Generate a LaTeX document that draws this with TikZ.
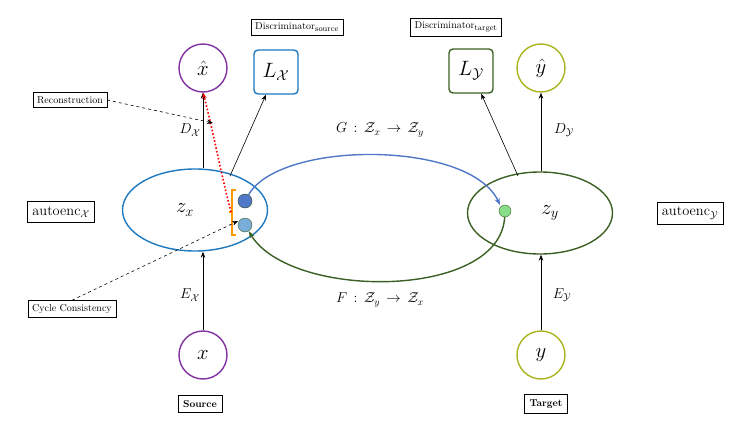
\documentclass[tikz,border=0pt]{standalone}
\usepackage{amsmath,amssymb}
\usetikzlibrary{arrows.meta,shapes.geometric}
\definecolor{pur}{RGB}{128,50,160}
\definecolor{blu}{RGB}{30,120,190}
\definecolor{dgr}{RGB}{60,95,35}
\definecolor{ygr}{RGB}{170,180,30}
\definecolor{gcol}{RGB}{80,120,200}
\begin{document}
\begin{tikzpicture}[x=1pt,y=-1pt,
  circ/.style={circle,draw,line width=1.4pt,minimum size=48pt,inner sep=0pt,font=\huge},
  lbox/.style={rounded corners=4pt,draw,line width=1.4pt,minimum size=44pt,inner sep=0pt,font=\huge},
  tbox/.style={draw,fill=white,inner sep=4pt,font=\normalsize},
  ell/.style={ellipse,draw,line width=1.4pt,minimum width=145pt,minimum height=82pt,font=\huge},
  arr/.style={-{Stealth[length=6pt]},semithick},
  dasharr/.style={-{Stealth[length=6pt]},dashed,semithick}]
\useasboundingbox (0,0) rectangle (748,423);
\node[circ,draw=pur] (xh) at (203,68) {$\hat{x}$};
\node[lbox,draw=blu] (LX) at (276,72) {$L_{\mathcal{X}}$};
\node[tbox] (ds) at (297,27) {Discriminator\textsubscript{\footnotesize source}};
\node[tbox] (dt) at (456,27) {Discriminator\textsubscript{\footnotesize target}};
\node[lbox,draw=dgr] (LY) at (471,71) {$L_{\mathcal{Y}}$};
\node[circ,draw=ygr] (yh) at (541,68) {$\hat{y}$};
\node[tbox] (rec) at (70,100) {Reconstruction};
\node[font=\Large] (DX) at (190,130) {$D_{\mathcal{X}}$};
\node[font=\Large] (DY) at (564,130) {$D_{\mathcal{Y}}$};
\node[font=\Large] (G) at (380,130) {$G\,:\,\mathcal{Z}_x\,\rightarrow\,\mathcal{Z}_y$};
\node[font=\Large] (F) at (380,300) {$F\,:\,\mathcal{Z}_y\,\rightarrow\,\mathcal{Z}_x$};
\node[ell,draw=blu] (zx) at (195,210) {\hspace*{-20pt}$z_x$};
\node[ell,draw=dgr] (zy) at (540,213) {\hspace*{20pt}$z_y$};
\node[draw,inner sep=5pt,font=\Large] (ax) at (61,212) {autoenc$_{\mathcal{X}}$};
\node[draw,inner sep=5pt,font=\Large] (ay) at (690,213) {autoenc$_{\mathcal{Y}}$};
\node[circle,draw=dgr!70!black,fill=gcol,minimum size=14pt,inner sep=0pt] (c1) at (245,201) {};
\node[circle,draw=dgr,fill=blu!60,minimum size=14pt,inner sep=0pt] (c2) at (245,225) {};
\node[circle,draw=dgr,fill=green!55!gray!60,minimum size=12pt,inner sep=0pt] (c3) at (505,211) {};
\draw[orange!80!yellow,line width=1.4pt] (236,190) -- (232,190) -- (232,235) -- (236,235) (232,212) -- (229,212);
\coordinate (br) at (231,212);
\node[tbox] (cc) at (72,309) {Cycle Consistency};
\node[font=\Large] (EX) at (190,295) {$E_{\mathcal{X}}$};
\node[font=\Large] (EY) at (562,295) {$E_{\mathcal{Y}}$};
\node[circ,draw=pur] (x) at (203,355) {$x$};
\node[circ,draw=ygr] (y) at (541,355) {$y$};
\node[draw,inner sep=5pt,font=\normalsize\bfseries] (src) at (200,404) {Source};
\node[draw,inner sep=5pt,font=\normalsize\bfseries] (tgt) at (546,404) {Target};
\draw[arr] (x) -- (x.north|-zx.south);
\draw[arr] (xh.south|-zx.north) -- (xh);
\draw[arr] (230,176) -- (LX);
\draw[arr] (y) -- (y.north|-zy.south);
\draw[arr] (yh.south|-zy.north) -- (yh);
\draw[arr] (518,176) -- (LY);
\draw[-{Stealth[length=7pt]},gcol,line width=1.4pt] (c1) .. controls (280,140) and (470,140) .. (500,205);
\draw[-{Stealth[length=7pt]},dgr,line width=1.4pt] (c3) .. controls (500,300) and (290,300) .. (c2);
\draw[-{Stealth[length=6pt]},red,dotted,line width=1.6pt] (br) .. controls (220,170) and (213,130) .. (xh.south);
\draw[dasharr] (rec.east) -- (213,123);
\draw[dasharr] (cc.north) -- (238,221);
\end{tikzpicture}
\end{document}
